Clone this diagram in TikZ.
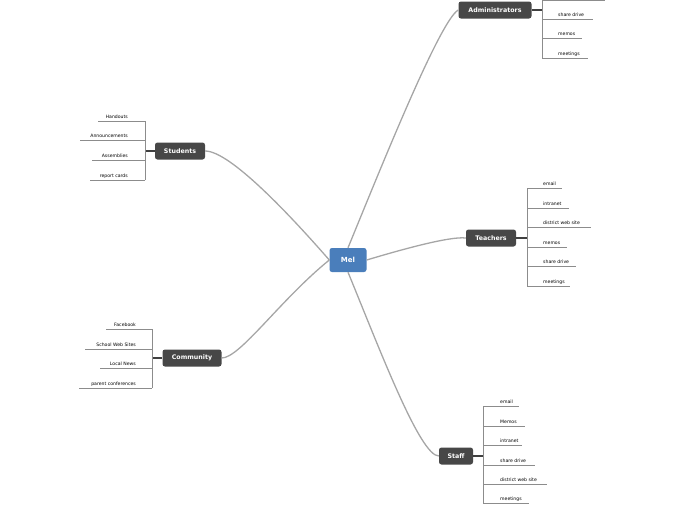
\documentclass[tikz,border=0pt]{standalone}
\usepackage{fontspec}
\setmainfont{DejaVu Sans}
\begin{document}
\begin{tikzpicture}[x=1pt,y=-1pt,
  main/.style={fill=black!72,text=white,rounded corners=2.5pt,font=\fontsize{6.3}{7}\selectfont\bfseries,minimum height=17pt,inner sep=0pt},
  leaf/.style={font=\fontsize{4.6}{5}\selectfont,inner sep=0pt},
  conn/.style={draw=black!35,line width=1.3pt},
  tree/.style={draw=black!45,line width=0.6pt},
  stem/.style={draw=black!75,line width=1.1pt}]
\useasboundingbox (0,0) rectangle (697,520);
\node[main,fill={rgb,255:red,74;green,126;blue,187},minimum width=37pt,minimum height=24pt,font=\fontsize{7}{8}\selectfont\bfseries] (mel) at (348,260) {Mel};
\node[main,minimum width=73pt] (adm) at (495,10) {Administrators};
\node[main,minimum width=50pt] (tea) at (491,238) {Teachers};
\node[main,minimum width=34pt] (sta) at (456,456) {Staff};
\node[main,minimum width=50pt] (stu) at (180,151) {Students};
\node[main,minimum width=59pt] (com) at (192,358) {Community};
% connectors
\draw[conn] (mel.north) .. controls (380,170) and (440,20) .. (adm.west);
\draw[conn] (mel.east) .. controls (400,250) and (450,236) .. (tea.west);
\draw[conn] (mel.south) .. controls (380,350) and (420,456) .. (sta.west);
\draw[conn] (mel.west) .. controls (290,215) and (230,151) .. (stu.east);
\draw[conn] (mel.west) .. controls (280,300) and (240,358) .. (com.east);
% right-side trees
\newcommand{\righttree}[5]{% node, x, ytop, ybot, list
  \coordinate (#1vt) at (#2,#3); \coordinate (#1vb) at (#2,#4);
  \draw[tree] (#1vt) -- (#1vb);
  \draw[stem] (#1.east) -- (#2,{#1}|-#1.east);
  \foreach \t/\y/\e in {#5}{
    \node[leaf,anchor=south west] at (#2+16,\y+3) {\t};
    \draw[tree] (#2,\y+5) -- (\e,\y+5);}
}
\coordinate (av) at (542,10);
\draw[stem] (adm.east) -- (av);
\draw[tree] (542,0) -- (542,58);
\draw[tree] (542,0) -- (605,0);
\foreach \t/\y/\e in {share drive/14/593,memos/33/582,meetings/53/588}{
  \node[leaf,anchor=base west] at (558,\y+2) {\t};
  \draw[tree] (542,\y+5) -- (\e,\y+5);}
\coordinate (tv) at (527,238);
\draw[stem] (tea.east) -- (tv);
\draw[tree] (527,188) -- (527,286);
\foreach \t/\y/\e in {email/183/562,intranet/203/569,district web site/222/591,memos/242/567,share drive/261/576,meetings/281/570}{
  \node[leaf,anchor=base west] at (543,\y+2) {\t};
  \draw[tree] (527,\y+5) -- (\e,\y+5);}
\coordinate (sv) at (483,456);
\draw[stem] (sta.east) -- (sv);
\draw[tree] (483,406) -- (483,504);
\foreach \t/\y/\e in {email/401/519,Memos/421/525,intranet/440/522,share drive/460/535,district web site/479/547,meetings/498/529}{
  \node[leaf,anchor=base west] at (500,\y+2) {\t};
  \draw[tree] (483,\y+5) -- (\e,\y+5);}
% left-side trees
\coordinate (stv) at (145,151);
\draw[stem] (stu.west) -- (stv);
\draw[tree] (145,121) -- (145,180);
\foreach \t/\y/\e in {Handouts/116/98,Announcements/135/80,Assemblies/155/92,report cards/175/90}{
  \node[leaf,anchor=base east] at (128,\y+2) {\t};
  \draw[tree] (145,\y+5) -- (\e,\y+5);}
\coordinate (cv) at (152,358);
\draw[stem] (com.west) -- (cv);
\draw[tree] (152,329) -- (152,388);
\foreach \t/\y/\e in {Facebook/324/106,School Web Sites/344/85,Local News/363/100,parent conferences/383/79}{
  \node[leaf,anchor=base east] at (136,\y+2) {\t};
  \draw[tree] (152,\y+5) -- (\e,\y+5);}
\end{tikzpicture}
\end{document}
